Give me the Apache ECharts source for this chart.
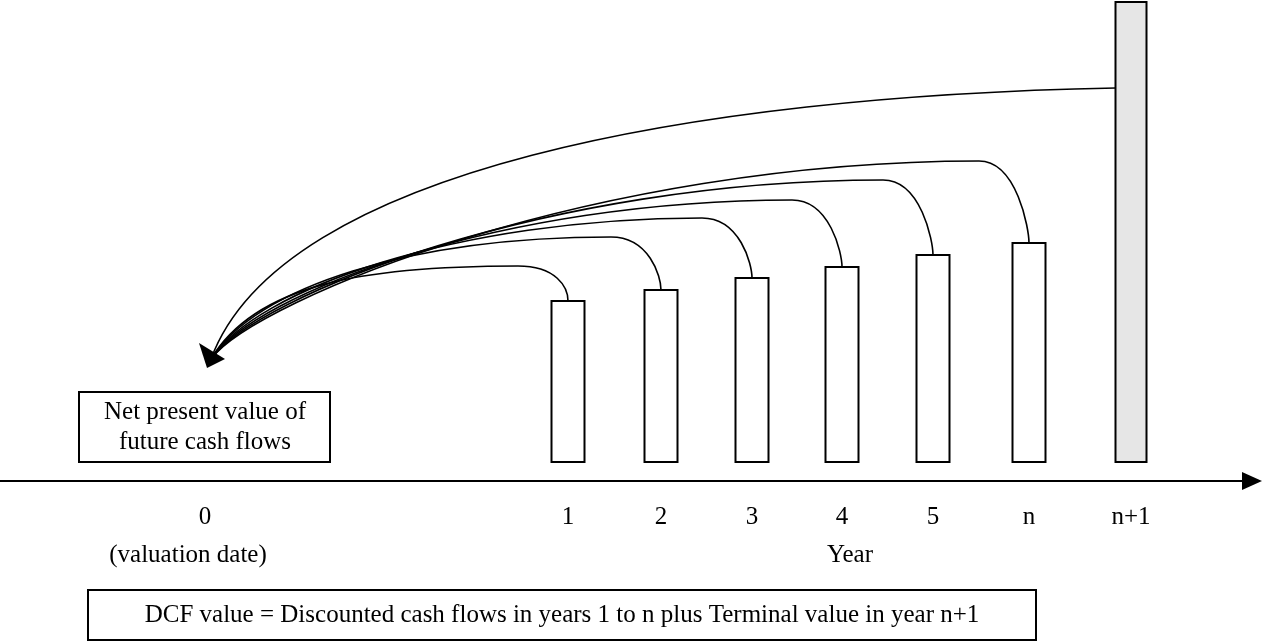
<!DOCTYPE html>
<html><head><meta charset="utf-8">
<script src="https://cdn.jsdelivr.net/npm/echarts@6/dist/echarts.min.js"></script>
<style>html,body{margin:0;padding:0;background:#fff}#c{width:1276px;height:644px}</style>
</head><body><div id="c"></div>
<script>
var labels = ['1','2','3','4','5','n','n+1'];
var xPos = [568, 661, 752, 842, 933, 1029, 1131];
var values = [161, 172, 184, 195, 207, 219, 460];
var peaks = [196, 225, 244, 262, 282, 301, 374];
var target = [207, 97];
var F = '"Liberation Serif", "DejaVu Serif", serif';
var chart = echarts.init(document.getElementById('c'));
var data = labels.map(function(l,i){return [xPos[i], values[i], peaks[i]];});
chart.setOption({
  animation:false,
  grid:{left:0,right:0,top:2,bottom:182},
  xAxis:{type:'value',min:0,max:1276,show:false},
  yAxis:{type:'value',min:0,max:460,show:false},
  series:[{
    type:'custom',
    data:data,
    clip:false,
    renderItem:function(params,api){
      var i=params.dataIndex;
      var base=api.coord([api.value(0),0]);
      var top=api.coord([api.value(0),api.value(1)]);
      var pk=api.coord([api.value(0),api.value(2)]);
      var end=api.coord(target);
      var last = i===6;
      var w = last?31:33;
      var kids=[{type:'rect',shape:{x:base[0]-w/2,y:top[1],width:w,height:base[1]-top[1]},
        style:{fill:last?'#e6e6e6':'#fff',stroke:'#000',lineWidth:2}}];
      var ex=end[0]+4, ey=end[1]-6, path;
      if(!last){
        var cx=top[0], sx=cx-50;
        path='M'+cx+' '+top[1]+' C'+cx+' '+(top[1]-14)+' '+(cx-12)+' '+pk[1]+' '+sx+' '+pk[1]+
          ' C'+(sx-(sx-ex)*0.5)+' '+pk[1]+' '+(ex+45)+' '+(ey-75+i*3)+' '+ex+' '+ey;
      } else {
        var sx2=base[0]-w/2;
        path='M'+sx2+' '+pk[1]+' C'+(sx2-420)+' '+(pk[1]+8)+' '+(ex+70)+' '+(ey-190)+' '+ex+' '+ey;
      }
      kids.push({type:'path',shape:{pathData:path},style:{fill:'none',stroke:'#000',lineWidth:1.6}});
      kids.push({type:'text',style:{text:labels[i],x:top[0],y:517,fill:'#000',font:'25px '+F,align:'center',verticalAlign:'middle'}});
      if(i===0){
        kids.push({type:'polygon',shape:{points:[[end[0],end[1]+3],[end[0]-8,end[1]-22],[end[0]+18,end[1]-6]]},style:{fill:'#000'}});
      }
      return {type:'group',children:kids};
    }
  }],
  graphic:[
    {type:'line',shape:{x1:0,y1:481,x2:1250,y2:481},style:{stroke:'#000',lineWidth:2}},
    {type:'polygon',shape:{points:[[1262,481],[1242,472],[1242,490]]},style:{fill:'#000'}},
    {type:'rect',shape:{x:79,y:392,width:251,height:70},style:{fill:'#fff',stroke:'#000',lineWidth:2}},
    {type:'text',style:{text:'Net present value of\nfuture cash flows',x:205,y:427,align:'center',verticalAlign:'middle',font:'25px '+F,lineHeight:30,fill:'#000'}},
    {type:'text',style:{text:'0',x:205,y:517,align:'center',verticalAlign:'middle',font:'25px '+F,fill:'#000'}},
    {type:'text',style:{text:'(valuation date)',x:188,y:555,align:'center',verticalAlign:'middle',font:'25px '+F,fill:'#000'}},
    {type:'text',style:{text:'Year',x:850,y:555,align:'center',verticalAlign:'middle',font:'25px '+F,fill:'#000'}},
    {type:'rect',shape:{x:88,y:590,width:948,height:50},style:{fill:'#fff',stroke:'#000',lineWidth:2}},
    {type:'text',style:{text:'DCF value = Discounted cash flows in years 1 to n plus Terminal value in year n+1',x:562,y:615,align:'center',verticalAlign:'middle',font:'25px '+F,fill:'#000'}}
  ]
});
</script></body></html>
